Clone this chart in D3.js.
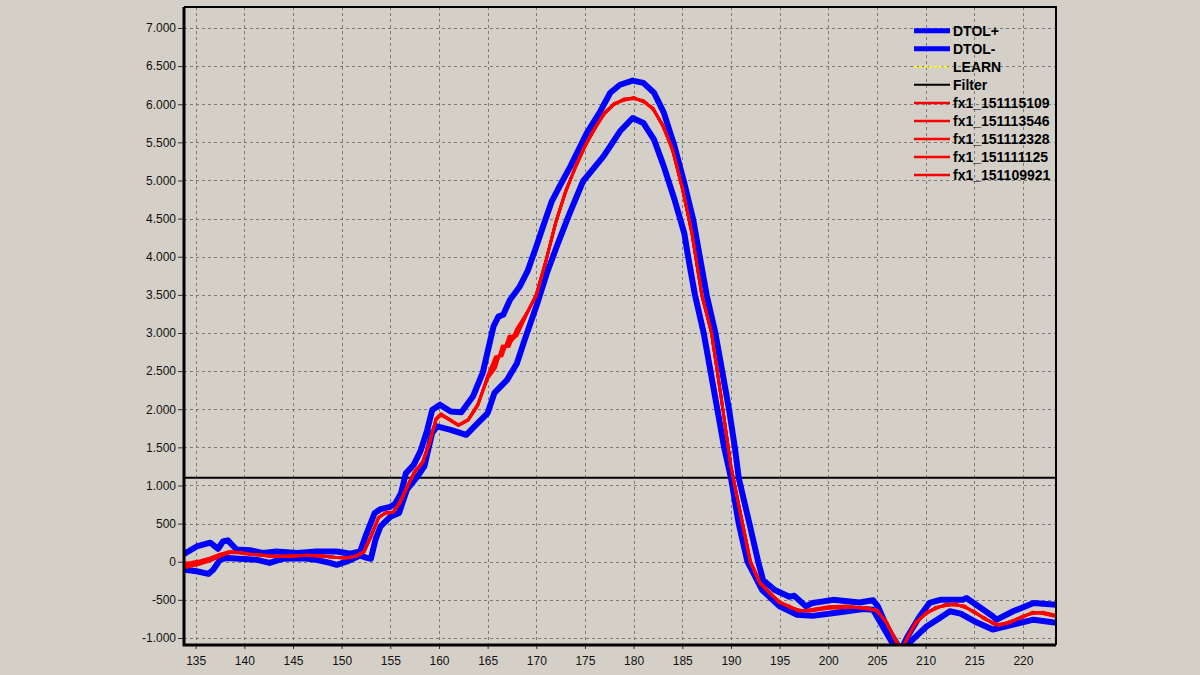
<!DOCTYPE html>
<html><head><meta charset="utf-8">
<script src="https://cdn.jsdelivr.net/npm/d3@7"></script>
<style>
body{margin:0;background:#D4D0C8;}
svg{display:block;font-family:"Liberation Sans",Arial,sans-serif;}
</style>
</head><body>
<svg id="c" width="1200" height="675"></svg>
<script>
// ---------- DATA ----------
const xTicks = [135,140,145,150,155,160,165,170,175,180,185,190,195,200,205,210,215,220];
const yTicks = [-1000,-500,0,500,1000,1500,2000,2500,3000,3500,4000,4500,5000,5500,6000,6500,7000];
const filterValue = 1100;

const dtolPlusX = [133.8,135.1,136.5,137.3,137.8,138.3,139.2,140.6,141.9,143.3,
  145.4,147.4,149.5,150.9,151.9,152.5,153.4,154,155,155.5,
  156.1,156.6,157.4,158.1,158.8,159.3,160.1,161.2,162.3,163.5,
  164.5,165.6,166.1,166.6,167.3,168.3,169.1,170,170.7,171.6,
  172.5,173.5,175.2,176.5,177.6,178.6,179.9,181,182.1,183.1,
  184.2,185.2,186.1,186.8,187.5,188.4,189.1,189.8,190.4,190.8,
  191.9,192.8,193.3,194.5,196,196.5,197.7,198.4,200.5,203.2,
  204.6,205.1,206,207,207.5,208.1,209.4,210.4,211.5,213.8,
  214.2,216.9,217.3,219,221.1,223.4];
const dtolPlusY = [100,200,250,170,265,280,160,150,115,135,
  115,135,135,105,135,350,640,690,720,760,
  900,1160,1270,1450,1730,1990,2060,1970,1960,2170,
  2480,3085,3215,3240,3435,3610,3810,4135,4400,4730,
  4950,5185,5625,5890,6150,6255,6310,6280,6150,5890,
  5450,4970,4500,4000,3500,3000,2500,2000,1500,1100,
  500,0,-240,-370,-460,-445,-585,-540,-500,-535,
  -505,-585,-850,-1065,-1150,-990,-715,-540,-500,-500,
  -475,-715,-760,-650,-540,-565];

const dtolMinusX = [133.8,135.1,136.3,136.8,137.5,138.2,139.5,141.3,142.6,144,
  146,147.4,148.8,149.5,150.5,151.9,152.6,153.0,153.5,154,
  155,155.9,156.7,157.8,158.5,159.3,159.8,161.2,162.8,163.5,
  165,165.7,167,168,168.8,170,171.1,172.1,173.3,174.8,
  176.9,178.6,179.9,181,182.1,183.1,184.2,185.2,185.6,186.3,
  187.2,187.9,188.6,189.3,190,190.8,191.7,193.2,195,196.8,
  198.4,200.8,203.6,204.6,205.6,206.7,207.3,208.3,210.1,211.5,
  212.5,213.6,215,216.9,219,221.1,223.4];
const dtolMinusY = [-105,-125,-160,-105,25,50,40,25,-15,40,
  45,25,-15,-40,0,80,50,40,300,465,
  590,640,945,1120,1250,1690,1775,1730,1665,1755,
  1950,2215,2385,2600,2910,3350,3790,4135,4530,4990,
  5315,5645,5820,5755,5535,5185,4750,4310,4000,3500,
  3000,2500,2000,1500,1100,500,0,-370,-585,-695,
  -710,-670,-620,-630,-850,-1090,-1150,-1065,-850,-735,
  -650,-680,-780,-890,-825,-760,-800];

const redX = [133.8,134.5,135.5,136.5,137.5,138.5,139.5,140.5,141.5,142.5,
  143.5,145,146.5,148,149.5,150.5,151.5,152.3,153,153.8,
  154.5,155.3,156,156.8,157.5,158.3,159,159.7,160.2,161,
  162,163,164,165,165.8,166.5,167.2,168,169,170,
  171,172,173,174,175,176,177,178,179,180,
  181,182,183,184,185,186,187,188,189,190,
  191,192,193,194,195,196,197,198,200,202,
  204,205,206,207,207.6,208.2,209,210,211,212,
  213,214,215,216,217,217.5,218.5,220,221,222,
  223.4];

const learnY = [-40,-25,0,35,85,125,120,100,90,75,
  70,75,85,75,55,50,75,130,330,580,
  640,650,780,1000,1180,1300,1550,1870,1930,1870,
  1790,1860,2060,2420,2610,2760,2890,2990,3250,3500,
  3950,4450,4850,5170,5450,5680,5880,6000,6060,6080,
  6040,5940,5720,5400,4900,4300,3500,3000,2150,1250,
  620,0,-280,-410,-530,-590,-640,-640,-600,-590,
  -610,-640,-800,-1050,-1150,-980,-800,-680,-610,-570,
  -560,-590,-660,-740,-810,-830,-800,-720,-670,-670,
  -710];

const fx1_151115109 = [-50,-35,-5,30,80,125,120,100,90,75,
  70,75,85,75,55,50,75,130,330,580,
  640,650,780,1000,1180,1300,1550,1870,1930,1870,
  1790,1860,2060,2420,2600,2760,2880,2990,3250,3500,
  3950,4450,4850,5170,5450,5680,5880,6000,6060,6080,
  6040,5940,5720,5400,4900,4300,3500,3000,2150,1250,
  620,0,-280,-410,-530,-590,-640,-640,-600,-590,
  -610,-640,-800,-1050,-1150,-980,-800,-680,-610,-570,
  -560,-590,-660,-740,-810,-830,-800,-720,-670,-670,
  -710];
const fx1_151113546 = [-80,-60,-30,10,70,120,122,102,88,73,
  72,78,83,72,57,52,78,135,320,575,
  645,655,770,990,1170,1310,1560,1860,1920,1865,
  1785,1855,2050,2440,2690,2700,2960,2960,3240,3510,
  3960,4440,4860,5160,5440,5690,5870,6000,6070,6070,
  6050,5930,5730,5390,4910,4290,3510,2990,2160,1240,
  630,10,-270,-420,-520,-600,-630,-650,-610,-600,
  -600,-650,-790,-1060,-1150,-970,-810,-670,-620,-560,
  -570,-580,-670,-730,-820,-820,-810,-710,-680,-660,
  -700];
const fx1_151112328 = [-20,-10,15,50,100,132,118,98,92,77,
  68,72,87,78,53,48,72,125,340,585,
  635,645,790,1010,1190,1290,1540,1880,1940,1875,
  1795,1865,2070,2400,2540,2830,2820,3060,3260,3490,
  3940,4460,4840,5180,5460,5670,5890,6010,6050,6090,
  6030,5950,5710,5410,4890,4310,3490,3010,2140,1260,
  610,-10,-290,-400,-540,-580,-650,-630,-590,-580,
  -620,-630,-810,-1040,-1150,-990,-790,-690,-600,-580,
  -550,-600,-650,-750,-800,-840,-790,-730,-660,-680,
  -720];
const fx1_151111125 = [-65,-45,-15,25,85,115,121,101,89,76,
  71,74,84,76,56,51,74,128,325,578,
  642,648,785,995,1185,1305,1545,1865,1925,1872,
  1792,1858,2058,2430,2640,2730,2920,3010,3245,3505,
  3955,4445,4855,5165,5455,5685,5875,5995,6065,6075,
  6045,5935,5725,5395,4905,4295,3505,2995,2155,1245,
  625,5,-285,-415,-525,-595,-635,-645,-605,-595,
  -605,-645,-795,-1055,-1150,-975,-805,-675,-615,-565,
  -565,-585,-665,-735,-815,-825,-805,-715,-675,-665,
  -705];
const fx1_151109921 = [-35,-20,5,40,90,135,119,99,91,74,
  69,76,86,74,54,49,76,132,335,582,
  638,652,775,1005,1175,1295,1555,1875,1935,1868,
  1788,1862,2065,2410,2580,2790,2860,2970,3255,3495,
  3945,4455,4845,5175,5445,5675,5885,6005,6055,6085,
  6035,5945,5715,5405,4895,4305,3495,3005,2145,1255,
  615,-5,-275,-405,-535,-585,-645,-635,-595,-585,
  -615,-635,-805,-1045,-1150,-985,-795,-685,-605,-575,
  -555,-595,-655,-745,-805,-835,-795,-725,-665,-675,
  -715];

const legendNames = ["DTOL+","DTOL-","LEARN","Filter","fx1_151115109","fx1_151113546","fx1_151112328","fx1_151111125","fx1_151109921"];

// ---------- CHART ----------
const plot = {left:184, right:1056, top:7, bottom:645};
const svg = d3.select("#c");
const x = d3.scaleLinear().domain([133.8,223.4]).range([plot.left,plot.right]);
const y = d3.scaleLinear().domain([-1092,7275]).range([plot.bottom,plot.top]);

const loc = d3.formatLocale({decimal:",", thousands:".", grouping:[3], currency:["",""], minus:"-"});
const fmt = loc.format(",d");

svg.append("defs").append("clipPath").attr("id","clip")
  .append("rect").attr("x",plot.left).attr("y",plot.top)
  .attr("width",plot.right-plot.left).attr("height",plot.bottom-plot.top);

// grid
const grid = svg.append("g").attr("stroke","#7a7a7a").attr("stroke-width",1).attr("stroke-dasharray","3,3");
grid.selectAll("line.v").data(xTicks).join("line").attr("class","v")
  .attr("x1",d=>Math.round(x(d))+0.5).attr("x2",d=>Math.round(x(d))+0.5)
  .attr("y1",plot.top).attr("y2",plot.bottom);
grid.selectAll("line.h").data(yTicks).join("line").attr("class","h")
  .attr("y1",d=>Math.round(y(d))+0.5).attr("y2",d=>Math.round(y(d))+0.5)
  .attr("x1",plot.left).attr("x2",plot.right);

// axes
const yAxis = svg.append("g").attr("transform",`translate(${plot.left},0)`)
  .call(d3.axisLeft(y).tickValues(yTicks).tickFormat(fmt).tickSizeInner(6).tickSizeOuter(0).tickPadding(2));
const xAxis = svg.append("g").attr("transform",`translate(0,${plot.bottom})`)
  .call(d3.axisBottom(x).tickValues(xTicks).tickFormat(d3.format("d")).tickSizeInner(4).tickSizeOuter(0).tickPadding(7));
[yAxis,xAxis].forEach(a=>{
  a.select(".domain").remove();
  a.selectAll("text").attr("font-size",12).attr("fill","#111").attr("font-family","'Liberation Sans',Arial,sans-serif");
  a.selectAll("line").attr("stroke","#333");
});

const g = svg.append("g").attr("clip-path","url(#clip)");

// Filter line
g.append("line").attr("x1",plot.left).attr("x2",plot.right)
  .attr("y1",y(filterValue)).attr("y2",y(filterValue))
  .attr("stroke","#000").attr("stroke-width",2);

const line = d3.line().x(d=>x(d[0])).y(d=>y(d[1]));
const zip = (xs,ys)=>xs.map((v,i)=>[v,ys[i]]);

g.append("path").datum(zip(dtolPlusX,dtolPlusY)).attr("d",line)
  .attr("fill","none").attr("stroke","#0000FF").attr("stroke-width",6).attr("stroke-linejoin","round").attr("stroke-linecap","square");
g.append("path").datum(zip(dtolMinusX,dtolMinusY)).attr("d",line)
  .attr("fill","none").attr("stroke","#0000FF").attr("stroke-width",6).attr("stroke-linejoin","round").attr("stroke-linecap","square");

g.append("path").datum(zip(redX,learnY)).attr("d",line)
  .attr("fill","none").attr("stroke","#FFFF00").attr("stroke-width",2).attr("stroke-dasharray","3,3");

const reds = [fx1_151115109,fx1_151113546,fx1_151112328,fx1_151111125,fx1_151109921];
reds.forEach(ys=>{
  g.append("path").datum(zip(redX,ys)).attr("d",line)
    .attr("fill","none").attr("stroke","#FF0000").attr("stroke-width",2.8).attr("stroke-linejoin","round");
});

// frame
svg.append("path")
  .attr("d",`M${plot.left},${plot.top}V${plot.bottom}H${plot.right}`)
  .attr("fill","none").attr("stroke","#000").attr("stroke-width",3);
svg.append("path")
  .attr("d",`M${plot.left},${plot.top}H${plot.right}V${plot.bottom}`)
  .attr("fill","none").attr("stroke","#000").attr("stroke-width",2);

// legend
const legStyles = [
  {c:"#0000FF",w:5,dash:null},{c:"#0000FF",w:5,dash:null},{c:"#FFFF00",w:1.5,dash:"3,2"},
  {c:"#000",w:2,dash:null},{c:"#FF0000",w:2.5,dash:null},{c:"#FF0000",w:2.5,dash:null},
  {c:"#FF0000",w:2.5,dash:null},{c:"#FF0000",w:2.5,dash:null},{c:"#FF0000",w:2.5,dash:null}];
const leg = svg.append("g");
legendNames.forEach((n,i)=>{
  const yy = 30.7 + i*18.05;
  leg.append("line").attr("x1",914).attr("x2",950).attr("y1",yy).attr("y2",yy)
    .attr("stroke",legStyles[i].c).attr("stroke-width",legStyles[i].w)
    .attr("stroke-dasharray",legStyles[i].dash);
  leg.append("text").attr("x",953).attr("y",yy).attr("dy","0.36em")
    .attr("font-size",14).attr("font-weight","bold").attr("fill","#000").text(n);
});
</script>
</body></html>
